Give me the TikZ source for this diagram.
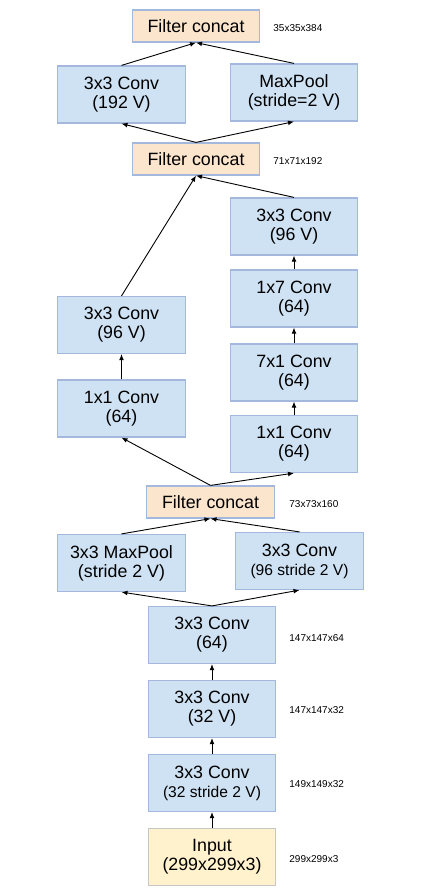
\documentclass[tikz,border=0pt]{standalone}
\usepackage{fontspec}
\setmainfont{Liberation Sans}
\usetikzlibrary{arrows.meta}
\definecolor{convblue}{HTML}{CFE2F3}
\definecolor{catorange}{HTML}{FCE5CD}
\definecolor{inyellow}{HTML}{FFF2CC}
\definecolor{edgeblue}{HTML}{A3B8DC}
\newcommand{\smallline}[1]{{\fontsize{7.8}{9.4}\selectfont #1}}
\tikzset{
  layer/.style={draw=edgeblue, line width=0.6pt, fill=convblue, align=center,
    minimum width=63.75pt, minimum height=28.5pt, inner sep=0pt,
    font=\fontsize{8.9}{9.4}\selectfont},
  concat/.style={layer, fill=catorange, minimum height=16pt},
  inbox/.style={layer, fill=inyellow, draw=gray!45},
  dims/.style={anchor=west, inner sep=0pt, font=\fontsize{5}{6}\selectfont},
  flow/.style={-{Latex[length=3pt,width=2.4pt]}, line width=0.45pt}
}
\begin{document}
\begin{tikzpicture}[x=0.5pt,y=-0.5pt]
\useasboundingbox (0,0) rectangle (423,895);
% stem
\node[inbox] (input) at (212,857) {Input\\(299x299x3)};
\node[layer] (c32s) at (212,783) {3x3 Conv\\\smallline{(32 stride 2 V)}};
\node[layer] (c32) at (212,709) {3x3 Conv\\(32 V)};
\node[layer] (c64) at (212,635) {3x3 Conv\\(64)};
\node[dims] (d1) at (289,859) {299x299x3};
\node[dims] (d2) at (289,784) {149x149x32};
\node[dims] (d3) at (289,710) {147x147x32};
\node[dims] (d4) at (289,638) {147x147x64};
% first split
\node[layer] (mp3) at (121.5,563) {3x3 MaxPool\\(stride 2 V)};
\node[layer] (c96s) at (299.5,561) {3x3 Conv\\\smallline{(96 stride 2 V)}};
\node[concat] (cat3) at (210.5,502) {Filter concat};
\node[dims] (d5) at (289,504) {73x73x160};
% second split
\node[layer] (l1x1) at (121.5,408.5) {1x1 Conv\\(64)};
\node[layer] (l3x3) at (121.5,325) {3x3 Conv\\(96 V)};
\node[layer] (r1x1) at (294,444) {1x1 Conv\\(64)};
\node[layer] (r7x1) at (294,372.5) {7x1 Conv\\(64)};
\node[layer] (r1x7) at (294,298.5) {1x7 Conv\\(64)};
\node[layer] (r3x3) at (294,226.5) {3x3 Conv\\(96 V)};
\node[concat] (cat2) at (196,159) {Filter concat};
\node[dims] (d6) at (273,161) {71x71x192};
% third split
\node[layer] (c192) at (121.5,94.5) {3x3 Conv\\(192 V)};
\node[layer] (mp1) at (294,92.5) {MaxPool\\(stride=2 V)};
\node[concat] (cat1) at (196,26) {Filter concat};
\node[dims] (d7) at (273,28) {35x35x384};
% connectors
\draw[flow] (input) -- (c32s);
\draw[flow] (c32s) -- (c32);
\draw[flow] (c32) -- (c64);
\draw[flow] (c64.north) -- (mp3.south);
\draw[flow] (c64.north) -- (c96s.south);
\draw[flow] (mp3.north) -- (cat3.south);
\draw[flow] (c96s.north) -- (cat3.south);
\draw[flow] (cat3.north) -- (l1x1.south);
\draw[flow] (cat3.north) -- (r1x1.south);
\draw[flow] (l1x1) -- (l3x3);
\draw[flow] (r1x1) -- (r7x1);
\draw[flow] (r7x1) -- (r1x7);
\draw[flow] (r1x7) -- (r3x3);
\draw[flow] (l3x3.north) -- (cat2.south);
\draw[flow] (r3x3.north) -- (cat2.south);
\draw[flow] (cat2.north) -- (c192.south);
\draw[flow] (cat2.north) -- (mp1.south);
\draw[flow] (c192.north) -- (cat1.south);
\draw[flow] (mp1.north) -- (cat1.south);
\end{tikzpicture}
\end{document}
